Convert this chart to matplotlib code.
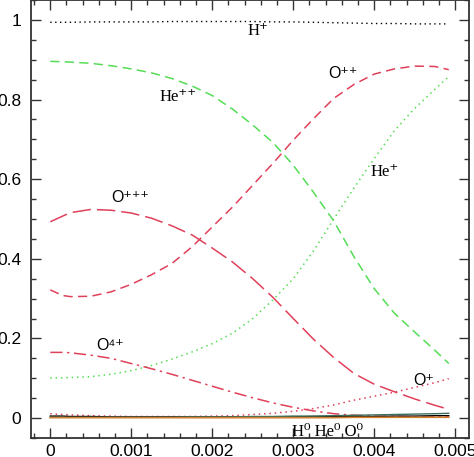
import matplotlib
matplotlib.use("Agg")
import matplotlib.pyplot as plt
from matplotlib.ticker import MultipleLocator, FormatStrFormatter

# common x grid (depth)
x = [0.0, 0.00015, 0.00025, 0.0005, 0.00075, 0.001, 0.00125, 0.0015,
     0.00175, 0.002, 0.00225, 0.0025, 0.00275, 0.003, 0.00325, 0.0035,
     0.00375, 0.004, 0.00425, 0.0045, 0.00475, 0.00492]

h_plus = [0.994, 0.994, 0.994, 0.995, 0.995, 0.995, 0.995, 0.996,
          0.996, 0.996, 0.996, 0.996, 0.995, 0.995, 0.994, 0.993,
          0.992, 0.991, 0.991, 0.990, 0.990, 0.990]
he_pp = [0.896, 0.895, 0.894, 0.891, 0.885, 0.877, 0.867, 0.853,
         0.834, 0.810, 0.776, 0.736, 0.692, 0.635, 0.567, 0.495,
         0.405, 0.325, 0.263, 0.216, 0.170, 0.137]
he_p = [0.101, 0.101, 0.102, 0.104, 0.110, 0.119, 0.132, 0.148,
        0.166, 0.187, 0.213, 0.250, 0.297, 0.350, 0.420, 0.500,
        0.578, 0.652, 0.722, 0.778, 0.826, 0.858]
o_pp = [0.322, 0.308, 0.305, 0.306, 0.317, 0.336, 0.360, 0.388,
        0.430, 0.480, 0.530, 0.585, 0.640, 0.698, 0.752, 0.803,
        0.838, 0.864, 0.877, 0.884, 0.883, 0.875]
o_ppp = [0.493, 0.507, 0.516, 0.524, 0.522, 0.515, 0.502, 0.483,
         0.460, 0.427, 0.392, 0.350, 0.303, 0.250, 0.198, 0.152,
         0.112, 0.085, 0.066, 0.048, 0.032, 0.022]
o_4p = [0.165, 0.165, 0.164, 0.158, 0.150, 0.137, 0.124, 0.110,
        0.095, 0.080, 0.065, 0.051, 0.038, 0.027, 0.018, 0.011,
        0.007, 0.005, 0.004, 0.003, 0.003, 0.003]
o_p = [0.011, 0.009, 0.008, 0.006, 0.005, 0.004, 0.004, 0.004,
       0.004, 0.005, 0.006, 0.009, 0.012, 0.017, 0.024, 0.033,
       0.045, 0.055, 0.065, 0.077, 0.089, 0.099]
h_0 = [0.005, 0.005, 0.004, 0.004, 0.003, 0.003, 0.003, 0.003,
       0.003, 0.003, 0.003, 0.003, 0.003, 0.003, 0.004, 0.004,
       0.004, 0.004, 0.005, 0.005, 0.006, 0.006]
he_0 = [0.002, 0.002, 0.002, 0.002, 0.002, 0.002, 0.002, 0.002,
        0.003, 0.003, 0.003, 0.004, 0.004, 0.005, 0.005, 0.006,
        0.007, 0.008, 0.009, 0.010, 0.011, 0.012]
o_0 = [0.001, 0.001, 0.001, 0.001, 0.001, 0.001, 0.001, 0.001,
       0.001, 0.001, 0.001, 0.001, 0.001, 0.001, 0.001, 0.001,
       0.002, 0.002, 0.002, 0.002, 0.002, 0.002]

red = "#e0405a"
green = "#55dd55"

fig = plt.figure(figsize=(4.74, 4.57), dpi=100)
ax = fig.add_axes([0.0654, 0.0416, 0.9241, 0.9584])

# curves
ax.plot(x, h_plus, color="black", lw=1, ls=(0, (1, 2.5)))
ax.plot(x, he_pp, color=green, lw=1.1, ls=(0, (6, 3.5)))
ax.plot(x, he_p, color=green, lw=1.1, ls=(0, (1, 2.5)))
ax.plot(x, o_pp, color=red, lw=1.1, ls=(0, (6, 3.5)))
ax.plot(x, o_ppp, color=red, lw=1.1, ls=(0, (12, 4)))
ax.plot(x, o_4p, color=red, lw=1.1, ls=(0, (8, 3, 1.5, 3)))
ax.plot(x, o_p, color=red, lw=1.1, ls=(0, (1, 2.5)))
ax.plot(x, h_0, color="black", lw=1)
ax.plot(x, he_0, color="#3a6e5a", lw=1)
ax.plot(x, o_0, color="#d08030", lw=1.2)

# labels
serif = ["Liberation Serif", "DejaVu Serif"]
sans = ["Liberation Sans", "DejaVu Sans"]
ax.text(0.00256, 0.971, "H⁺", family=serif, fontsize=12, ha="center", va="center")
ax.text(0.001576, 0.806, "He⁺⁺", family=serif, fontsize=12, ha="center", va="center")
ax.text(0.00413, 0.618, "He⁺", family=serif, fontsize=12, ha="center", va="center")
ax.text(0.003615, 0.866, "O⁺⁺", family=sans, fontsize=11.5, ha="center", va="center")
ax.text(0.000985, 0.553, "O⁺⁺⁺", family=sans, fontsize=11.5, ha="center", va="center")
ax.text(0.000737, 0.182, "O⁴⁺", family=sans, fontsize=11.5, ha="center", va="center")
ax.text(0.00461, 0.094, "O⁺", family=sans, fontsize=11.5, ha="center", va="center")
ax.text(0.00342, -0.034, "H⁰ He⁰ O⁰", family=serif, fontsize=12, ha="center", va="center")

ax.set_xlim(-0.000238, 0.00517)
ax.set_ylim(-0.05, 1.05)

ax.xaxis.set_major_locator(MultipleLocator(0.001))
ax.xaxis.set_minor_locator(MultipleLocator(0.0002))
ax.yaxis.set_major_locator(MultipleLocator(0.2))
ax.yaxis.set_minor_locator(MultipleLocator(0.05))
ax.xaxis.set_major_formatter(FormatStrFormatter("%g"))
ax.yaxis.set_major_formatter(FormatStrFormatter("%g"))
ax.tick_params(which="both", direction="in", top=True, right=True, color="#333333", width=1)
ax.tick_params(which="major", length=7)
ax.tick_params(which="minor", length=3.5)
ax.tick_params(axis="x", pad=4)
ax.tick_params(axis="y", pad=7)
for lab in ax.get_xticklabels() + ax.get_yticklabels():
    lab.set_family(sans)
    lab.set_fontsize(12.5)
for sp in ax.spines.values():
    sp.set_linewidth(1.3)
    sp.set_color("#333333")

fig.savefig("out.png", dpi=100)
